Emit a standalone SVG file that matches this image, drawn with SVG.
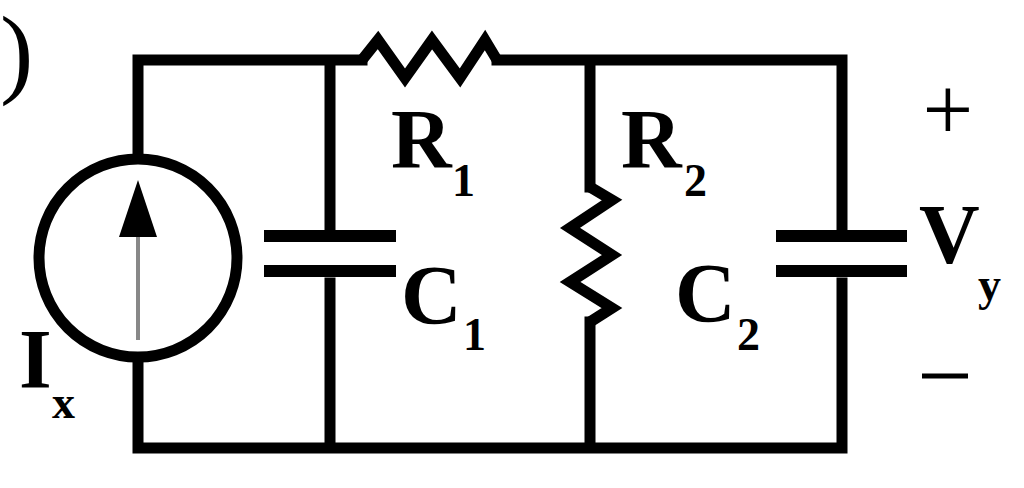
<svg xmlns="http://www.w3.org/2000/svg" width="1024" height="488" viewBox="0 0 1024 488">
<style>
.w{fill:none;stroke:#000;stroke-width:11;stroke-linejoin:miter;stroke-linecap:square}
.p{stroke:#000;stroke-width:12}
text{font-family:'Liberation Serif','Times New Roman',serif;fill:#000}
.t{font-weight:bold}
.m{font-size:84px}.s{font-size:46px}
</style>
<rect width="1024" height="488" fill="#fff"/>
<g id="wires">
<path class="w" d="M138,158 V60 H362 M497,60 H842 V225 M842,283 V448 H138 V358 M330,60 V225 M330,283 V448 M590,60 V187 M590,322 V448"/>
</g>
<g id="R1"><path class="w" style="stroke-linecap:butt" d="M362,60 L378,40 L405,78 L432,40 L460,78 L485,40 L497,60"/></g>
<g id="R2"><path class="w" style="stroke-linecap:butt" d="M590,187 L612,200 L570,228 L612,255 L570,282 L612,308 L590,322"/></g>
<g id="Ix">
<circle cx="138" cy="258" r="99" fill="none" stroke="#000" stroke-width="11"/>
<line x1="138" y1="236" x2="138" y2="340" stroke="#888" stroke-width="4"/>
<polygon points="138,180 119,237 157,237" fill="#000"/>
</g>
<g id="C1"><line class="p" x1="264" y1="236" x2="396" y2="236"/><line class="p" x1="264" y1="271" x2="396" y2="271"/></g>
<g id="C2"><line class="p" x1="776" y1="236" x2="907" y2="236"/><line class="p" x1="776" y1="271" x2="907" y2="271"/></g>
<g id="labels">
<text class="t m" x="391" y="168">R</text><text class="t s" x="452" y="196">1</text>
<text class="t m" x="621" y="168">R</text><text class="t s" x="684" y="196">2</text>
<text class="t m" x="401" y="324">C</text><text class="t s" x="463" y="350">1</text>
<text class="t m" x="675" y="322">C</text><text class="t s" x="737" y="350">2</text>
<text class="t m" x="19" y="388">I</text><text class="t s" x="52" y="418">x</text>
<text class="t m" x="919" y="263">V</text><text class="t s" x="978" y="300">y</text>
<text x="948" y="140" font-size="90" text-anchor="middle">+</text>
<line x1="922" y1="376" x2="968" y2="376" stroke="#000" stroke-width="5"/>
<text x="0" y="85" font-size="100">)</text>
</g>
</svg>
